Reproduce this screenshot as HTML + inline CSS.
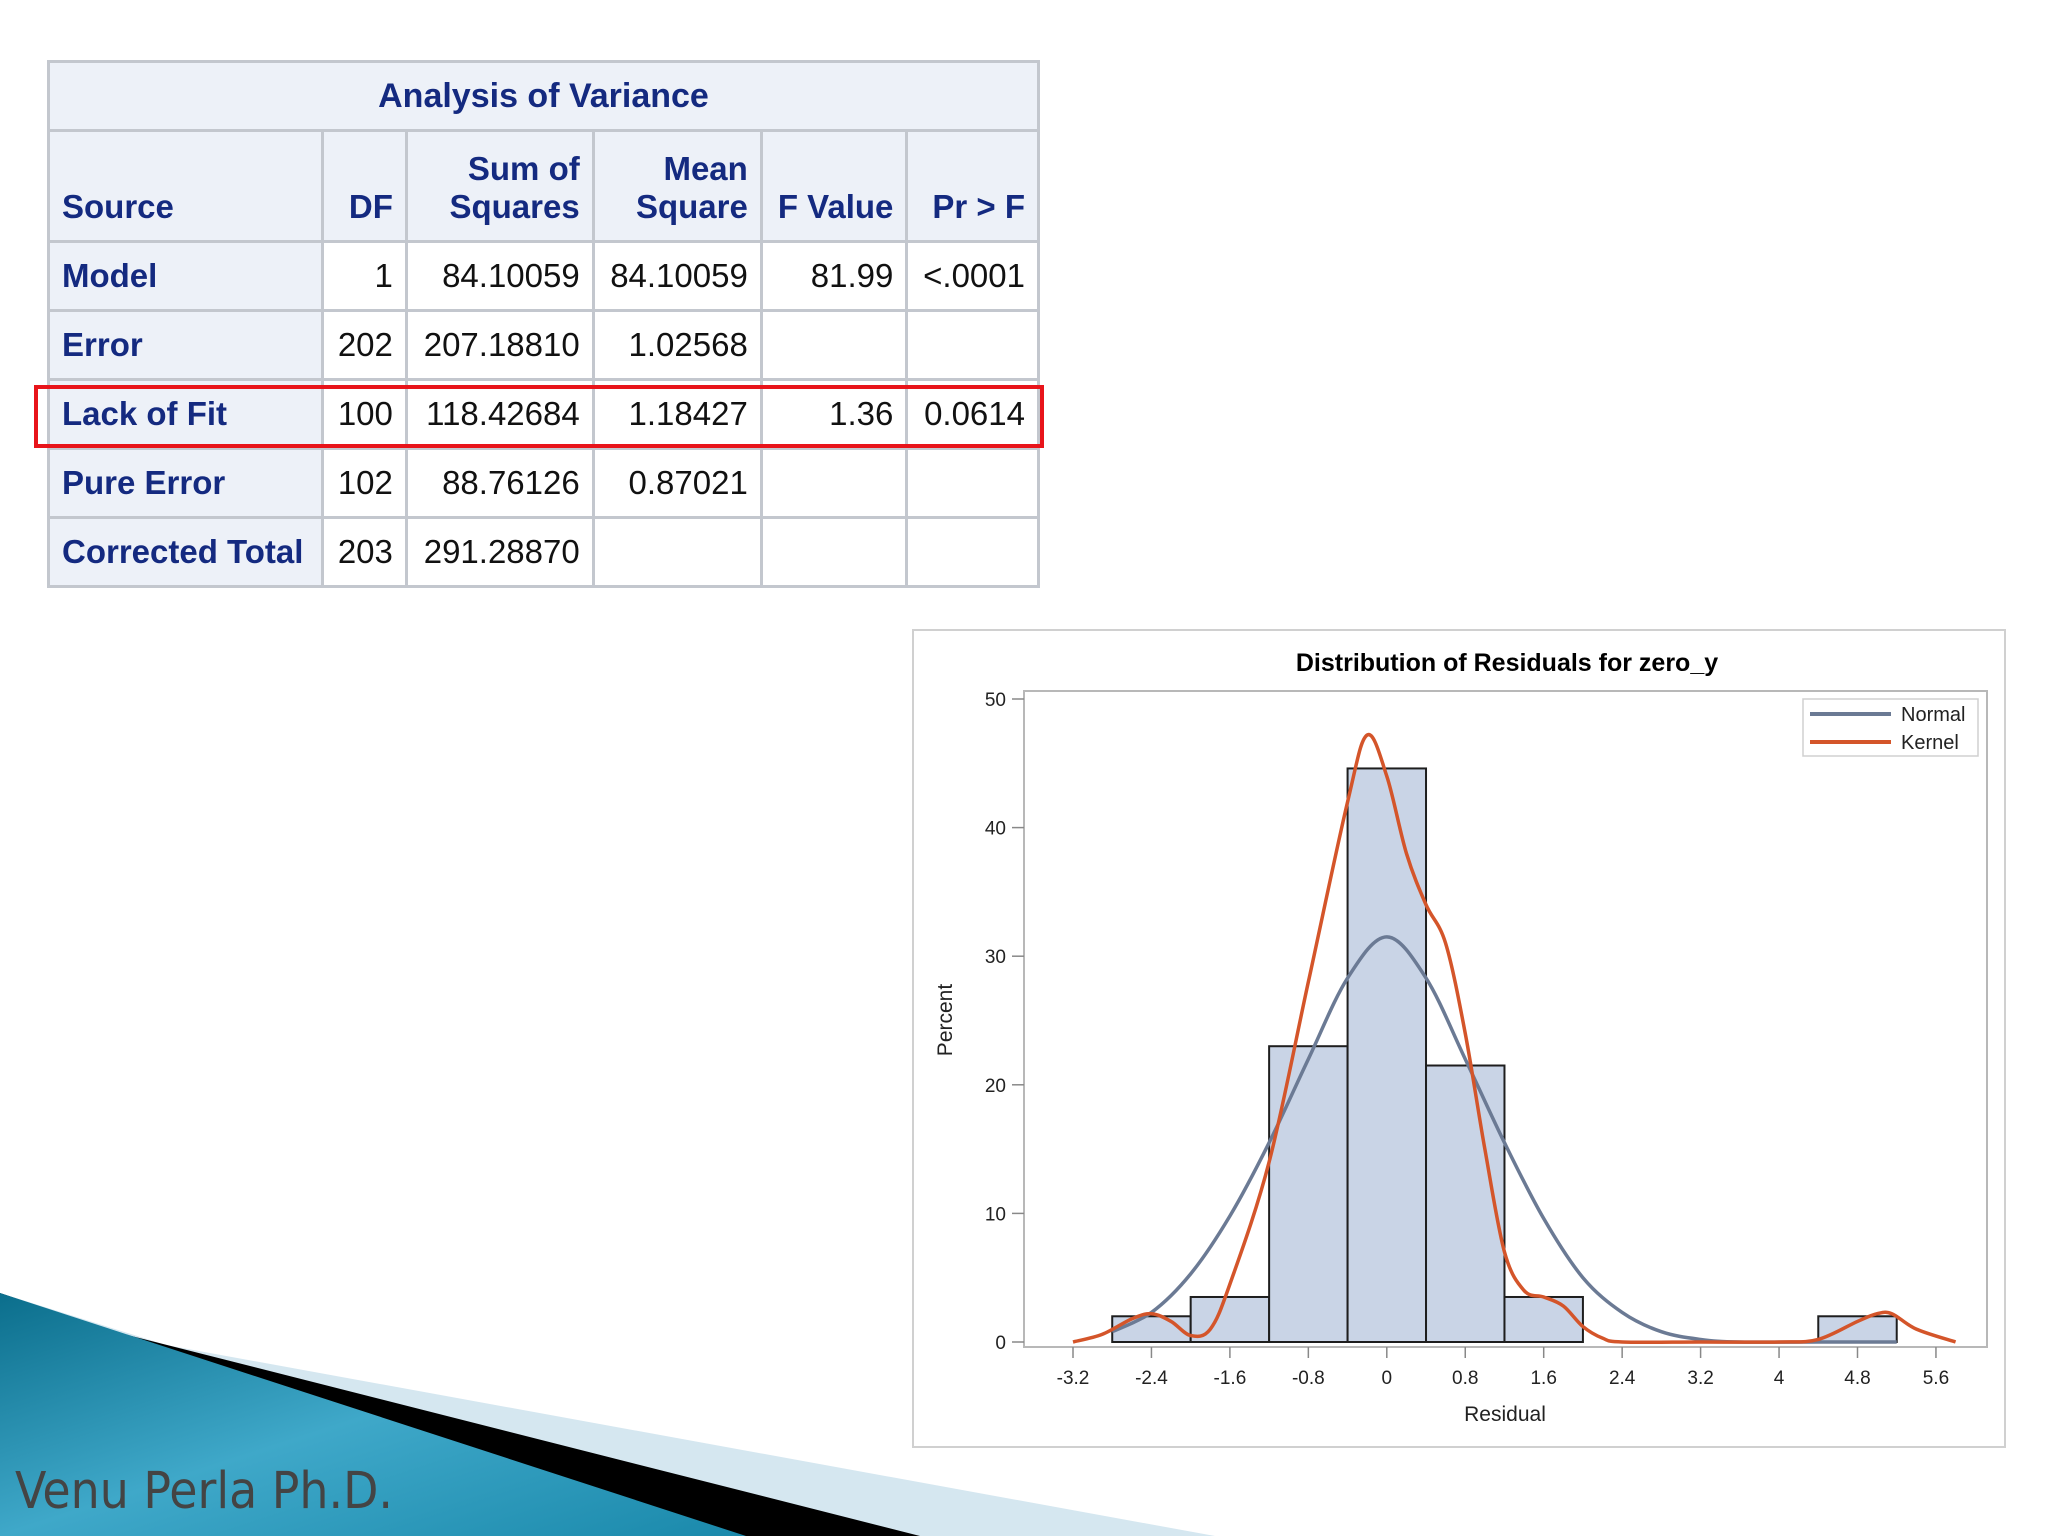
<!DOCTYPE html>
<html><head><meta charset="utf-8"><style>
html,body{margin:0;padding:0;background:#fff;width:2048px;height:1536px;overflow:hidden;position:relative;font-family:"Liberation Sans",sans-serif}
#bg{position:absolute;left:0;top:0}
table.anova{position:absolute;left:47px;top:60px;width:993px;border-collapse:collapse;font-family:"Liberation Sans Narrow","Liberation Sans",sans-serif;font-size:33px}
table.anova td,table.anova th{border:3px solid #c3c7ce;padding:0 12px;white-space:nowrap}
table.anova th{background:#edf1f8;color:#142a80;font-weight:bold}
table.anova td{background:#fff;color:#111;text-align:right}
table.anova th.rh{text-align:left}
#redbox{position:absolute;left:34px;top:385px;width:1002px;height:55px;border:4px solid #e8141a}
#author{position:absolute;left:15px;top:1462px;font-size:51px;color:#444;font-family:"Liberation Sans Narrow","DejaVu Sans Condensed","Liberation Sans",sans-serif}
#chart{position:absolute;left:0;top:0}
</style></head><body>
<svg id="bg" width="2048" height="1536">
<defs><linearGradient id="tg" x1="0" y1="0" x2="1" y2="1"><stop offset="0" stop-color="#0b6e8c"/><stop offset="0.5" stop-color="#3fa8c9"/><stop offset="1" stop-color="#1a89ab"/></linearGradient></defs>
<polygon points="0,1293 166,1345 1215,1536 0,1536" fill="#d5e7f0"/>
<polygon points="0,1293 108,1330 920,1536 0,1536" fill="#000"/>
<polygon points="0,1293 746,1536 0,1536" fill="url(#tg)"/>
</svg>

<table class="anova">
<tr style="height:69px"><th colspan="6" style="font-size:34px">Analysis of Variance</th></tr>
<tr style="height:111px;vertical-align:bottom"><th class="rh" style="padding-bottom:14px">Source</th><th style="text-align:right;padding-bottom:14px">DF</th><th style="text-align:right;padding-bottom:14px">Sum of<br>Squares</th><th style="text-align:right;padding-bottom:14px">Mean<br>Square</th><th style="text-align:right;padding-bottom:14px">F Value</th><th style="text-align:right;padding-bottom:14px">Pr &gt; F</th></tr>
<tr style="height:69px"><th class="rh">Model</th><td>1</td><td>84.10059</td><td>84.10059</td><td>81.99</td><td>&lt;.0001</td></tr>
<tr style="height:69px"><th class="rh">Error</th><td>202</td><td>207.18810</td><td>1.02568</td><td></td><td></td></tr>
<tr style="height:69px"><th class="rh">Lack of Fit</th><td>100</td><td>118.42684</td><td>1.18427</td><td>1.36</td><td>0.0614</td></tr>
<tr style="height:69px"><th class="rh">Pure Error</th><td>102</td><td>88.76126</td><td>0.87021</td><td></td><td></td></tr>
<tr style="height:69px"><th class="rh">Corrected Total</th><td>203</td><td>291.28870</td><td></td><td></td><td></td></tr>
</table>
<div id="redbox"></div>
<div id="author">Venu Perla Ph.D.</div>

<svg id="chart" width="2048" height="1536">
<rect x="913" y="630" width="1092" height="817" fill="#fff" stroke="#d0d0d0" stroke-width="2"/>
<text x="1507" y="671" text-anchor="middle" font-size="25" font-weight="bold" fill="#000" font-family="Liberation Sans Narrow, Liberation Sans, sans-serif">Distribution of Residuals for zero_y</text>
<rect x="1024" y="691" width="963" height="656" fill="none" stroke="#b8b8b8" stroke-width="2"/>
<g id="bars"></g><g id="curves"></g><g id="axes"></g>
<text transform="translate(952,1020) rotate(-90)" text-anchor="middle" font-size="21" fill="#222">Percent</text>
<text x="1505" y="1421" text-anchor="middle" font-size="21" fill="#222">Residual</text>
<g>
<rect x="1803" y="699" width="175" height="57" fill="#fff" stroke="#d0d0d0" stroke-width="1.5"/>
<line x1="1810" y1="714" x2="1891" y2="714" stroke="#6b7a94" stroke-width="4"/>
<text x="1901" y="721" font-size="20" fill="#222">Normal</text>
<line x1="1810" y1="742" x2="1891" y2="742" stroke="#d4552a" stroke-width="4"/>
<text x="1901" y="749" font-size="20" fill="#222">Kernel</text>
</g>
</svg>
<script>
const binStarts=[-2.8,-2.0,-1.2,-0.4,0.4,1.2,4.4];
const binHeights=[2.0,3.5,23.0,44.6,21.5,3.5,2.0];
const binWidth=0.8;
const normalX=[-2.8,-2.4,-2.0,-1.6,-1.2,-0.8,-0.4,0,0.4,0.8,1.2,1.6,2.0,2.4,2.8,3.2,3.6,4.4,5.2];
const normalY=[0.8,2.3,5.3,9.8,15.5,22,28.3,31.5,28.3,22,15.5,9.6,5,2.3,0.8,0.2,0,0,0];
const kernelX=[-3.2,-2.9,-2.6,-2.4,-2.2,-2.0,-1.8,-1.6,-1.2,-0.8,-0.4,-0.2,0,0.2,0.4,0.6,0.8,1.0,1.2,1.4,1.6,1.8,2.0,2.2,2.4,3.2,4.0,4.4,4.8,5.0,5.15,5.4,5.8];
const kernelY=[0,0.6,1.8,2.2,1.6,0.5,1.0,4.5,14,28,42,47.2,44,38,34,31,24,15,7,4,3.5,2.8,1.2,0.3,0,0,0,0.2,1.6,2.2,2.2,1,0];
const xTicks=[-3.2,-2.4,-1.6,-0.8,0,0.8,1.6,2.4,3.2,4,4.8,5.6];
const yTicks=[0,10,20,30,40,50];
const NS="http://www.w3.org/2000/svg";
function X(v){return 1073+(v+3.2)/0.8*78.45;}
function Y(v){return 1342-v*12.86;}
function mk(t,a){const e=document.createElementNS(NS,t);for(const k in a)e.setAttribute(k,a[k]);return e;}
const bars=document.getElementById('bars');
binStarts.forEach((s,i)=>{
 const r=mk('rect',{x:X(s),y:Y(binHeights[i]),width:X(s+binWidth)-X(s),height:Y(0)-Y(binHeights[i]),fill:'#c9d4e6',stroke:'#1e1e1e','stroke-width':2});
 
 
 bars.appendChild(r);
});
function smooth(xs,ys){
 const p=xs.map((x,i)=>[X(x),Y(ys[i])]);
 let d='M'+p[0][0]+','+p[0][1];
 for(let i=0;i<p.length-1;i++){
  const p0=p[Math.max(0,i-1)],p1=p[i],p2=p[i+1],p3=p[Math.min(p.length-1,i+2)];
  const c1=[p1[0]+(p2[0]-p0[0])/6,p1[1]+(p2[1]-p0[1])/6];
  const c2=[p2[0]-(p3[0]-p1[0])/6,p2[1]-(p3[1]-p1[1])/6];
  d+=' C'+c1+' '+c2+' '+p2;
 }
 return d;
}
const curves=document.getElementById('curves');
const np=mk('path',{d:smooth(normalX,normalY),fill:'none',stroke:'#6b7a94','stroke-width':3.5});


curves.appendChild(np);
const kp=mk('path',{d:smooth(kernelX,kernelY),fill:'none',stroke:'#d4552a','stroke-width':3.5});


curves.appendChild(kp);
const axes=document.getElementById('axes');
xTicks.forEach(v=>{
 const l=mk('line',{x1:X(v),y1:1347,x2:X(v),y2:1358,stroke:'#888','stroke-width':1.5});
 
 
 axes.appendChild(l);
 const t=mk('text',{x:X(v),y:1384,'text-anchor':'middle','font-size':19,fill:'#222'});
 t.textContent=String(v);
 
 
 axes.appendChild(t);
});
yTicks.forEach(v=>{
 const l=mk('line',{x1:1012,y1:Y(v),x2:1024,y2:Y(v),stroke:'#888','stroke-width':1.5});
 
 
 axes.appendChild(l);
 const t=mk('text',{x:1006,y:Y(v)+7,'text-anchor':'end','font-size':19,fill:'#222'});
 t.textContent=String(v);
 
 
 axes.appendChild(t);
});
</script>
</body></html>
